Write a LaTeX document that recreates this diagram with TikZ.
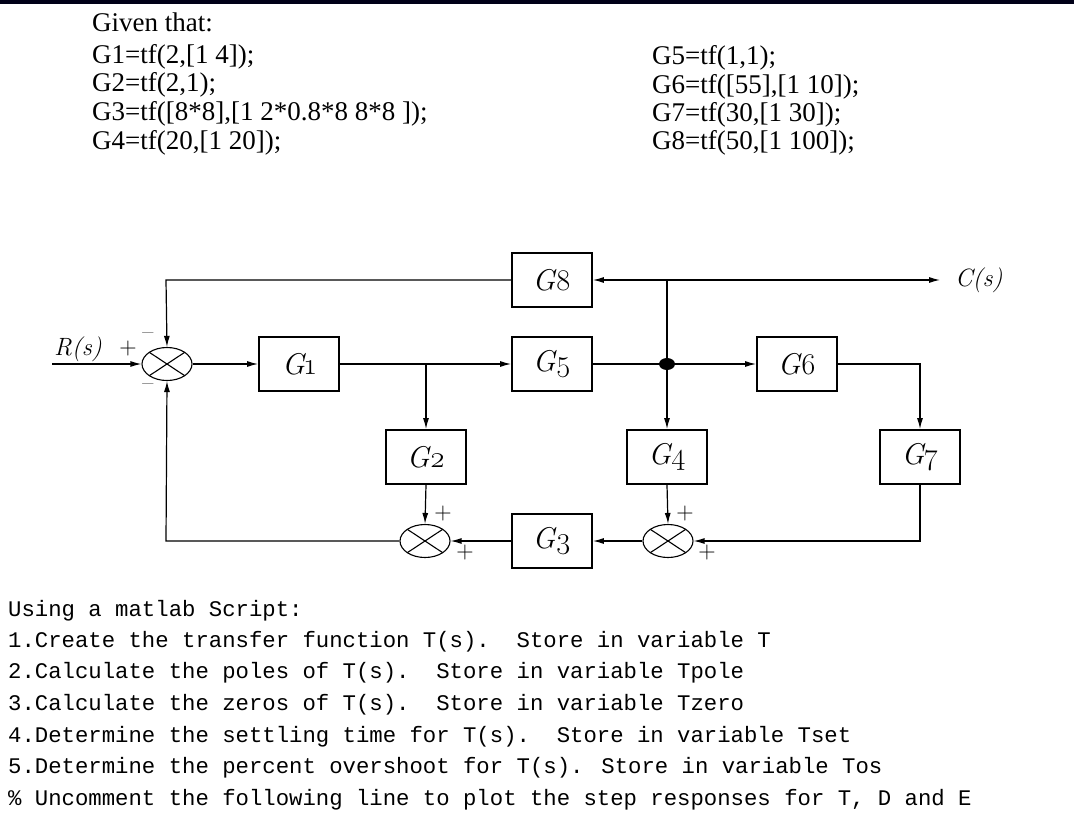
\documentclass[tikz,border=0pt]{standalone}
\usepackage{fontspec}
\setmainfont{Liberation Serif}
\newfontfamily\cmono{Liberation Mono}
\newfontfamily\lmr{Latin Modern Roman}[Numbers=OldStyle]
\newcommand{\gblk}[1]{{\lmr\itshape G}{\lmr #1}}
\usetikzlibrary{arrows.meta,shapes.geometric}
\begin{document}
\begin{tikzpicture}[x=1pt,y=-1pt,
  blk/.style={draw,line width=1.8pt,minimum width=80pt,minimum height=54pt,inner sep=0pt,font=\lmr\fontsize{30}{30}\selectfont},
  sum/.style={draw,ellipse,line width=1.1pt,minimum width=50pt,minimum height=33pt,inner sep=0pt,
    path picture={\draw[line width=1.1pt] (path picture bounding box.north west)--(path picture bounding box.south east) (path picture bounding box.south west)--(path picture bounding box.north east);}},
  ar/.style={-{Latex[length=11pt,width=6pt]}},
  ln/.style={line width=1.2pt},
  sg/.style={font=\lmr\fontsize{24}{24}\selectfont,inner sep=0pt},
  lb/.style={font=\lmr\itshape\fontsize{25}{25}\selectfont,inner sep=0pt},
  tx/.style={anchor=base west,inner sep=0pt,font=\fontsize{27}{27}\selectfont},
  mo/.style={anchor=base west,inner sep=0pt,font=\cmono\fontsize{22.3}{22.3}\selectfont}]
\useasboundingbox (0,0) rectangle (1074,813);
\fill[white] (0,0) rectangle (1074,813);
\fill[black!85!blue!60!black] (0,0) rectangle (1074,4);
% top text
\node[tx] (t0) at (92,32) {Given that:};
\node[tx] (t1) at (92,64) {G1=tf(2,[1 4]);};
\node[tx] (t2) at (92,92) {G2=tf(2,1);};
\node[tx] (t3) at (92,121) {G3=tf([8*8],[1 2*0.8*8 8*8 ]);};
\node[tx] (t4) at (92,150) {G4=tf(20,[1 20]);};
\node[tx] (t5) at (652,65) {G5=tf(1,1);};
\node[tx] (t6) at (652,94) {G6=tf([55],[1 10]);};
\node[tx] (t7) at (652,122) {G7=tf(30,[1 30]);};
\node[tx] (t8) at (652,150) {G8=tf(50,[1 100]);};
% blocks
\node[blk] (G1) at (299,364) {\gblk{1}};
\node[blk] (G2) at (426,457) {\gblk{2}};
\node[blk] (G8) at (552,280) {\gblk{8}};
\node[blk] (G5) at (552,364) {\gblk{5}};
\node[blk] (G3) at (552,541) {\gblk{3}};
\node[blk] (G4) at (667,457) {\gblk{4}};
\node[blk] (G6) at (797,364) {\gblk{6}};
\node[blk] (G7) at (920,457) {\gblk{7}};
\node[sum] (s1) at (167,364) {};
\node[sum] (s2) at (425,541) {};
\node[sum] (s3) at (668,541) {};
\node[fill,ellipse,minimum width=16pt,minimum height=12pt,inner sep=0pt] (dot) at (667,364) {};
\coordinate (r) at (52,364);
\coordinate (br) at (426,364);
\coordinate (tp) at (667,280);
\coordinate (cs) at (940,280);
\coordinate (tl) at (166,280);
\coordinate (g6r) at (920,364);
\coordinate (g7b) at (920,541);
\coordinate (bl) at (166,541);
\node[lb] (Rl) at (78,349) {R(s)};
\node[lb,anchor=west] (Cl) at (955,280) {C(s)};
% connectors
\draw[ln,ar] (r) -- (s1.west);
\draw[ln,ar] (s1.east) -- (G1.west);
\draw[ln,ar] (G1.east) -- (G5.west);
\draw[ln,ar] (br) -- (G2.north);
\draw[ln,ar] (G2.south) -- (s2.north);
\draw[ln] (G5.east) -- (dot);
\draw[ln,ar] (dot) -- (G6.west);
\draw[ln,ar] (dot) -- (G4.north);
\draw[ln] (dot) -- (tp);
\draw[ln,ar] (tp) -- (G8.east);
\draw[ln,ar] (tp) -- (cs);
\draw[ln,ar] (G8.west) -- (tl) -- (s1.north);
\draw[ln,ar] (G6.east) -- (g6r) -- (G7.north);
\draw[ln,ar] (G7.south) -- (g7b) -- (s3.east);
\draw[ln,ar] (G4.south) -- (s3.north);
\draw[ln,ar] (s3.west) -- (G3.east);
\draw[ln,ar] (G3.west) -- (s2.east);
\draw[ln,ar] (s2.west) -- (bl) -- (s1.south);
% signs
\node[sg] (p1) at (128,349) {+};
\node[sg] (m1) at (148,336) {\textendash};
\node[sg] (m2) at (148,387) {\textendash};
\node[sg] (p2) at (443,514) {+};
\node[sg] (p3) at (465,553) {+};
\node[sg] (p4) at (685,514) {+};
\node[sg] (p5) at (707,553) {+};
% bottom text
\node[mo] (b0) at (8,616) {Using a matlab Script:};
\node[mo] (b1) at (8,647) {1.Create the transfer function T(s).\ \ Store in variable T};
\node[mo] (b2) at (8,678) {2.Calculate the poles of T(s).\ \ Store in variable Tpole};
\node[mo] (b3) at (8,710) {3.Calculate the zeros of T(s).\ \ Store in variable Tzero};
\node[mo] (b4) at (8,742) {4.Determine the settling time for T(s).\ \ Store in variable Tset};
\node[mo] (b5) at (8,773) {5.Determine the percent overshoot for T(s). Store in variable Tos};
\node[mo] (b6) at (8,805) {\% Uncomment the following line to plot the step responses for T, D and E};
\end{tikzpicture}
\end{document}
